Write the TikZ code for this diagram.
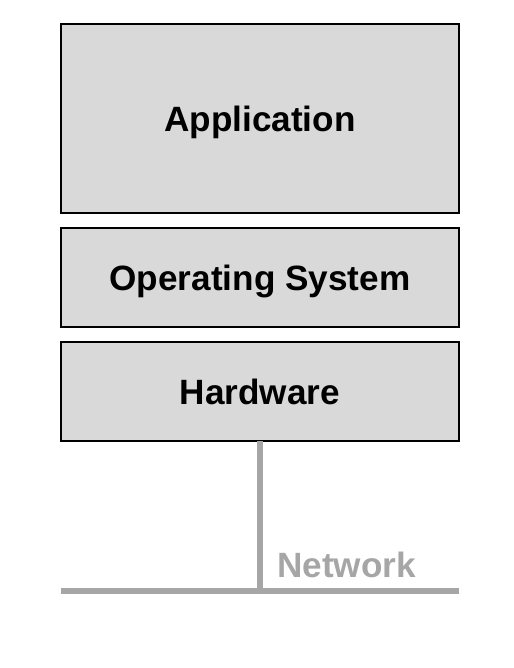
\documentclass[tikz,border=0pt]{standalone}
\usepackage{fontspec}
\setmainfont{Liberation Sans}
\usepackage{tikz}
\usetikzlibrary{positioning}
\usepackage{xcolor}
\definecolor{layergray}{RGB}{217,217,217}
\definecolor{netgray}{RGB}{166,166,166}

\begin{document}
\begin{tikzpicture}[
    node distance=0.3cm,
    layer/.style={draw, line width=0.7pt, fill=layergray, minimum width=7.96cm, align=center, font=\fontsize{20}{24}\selectfont\bfseries, inner sep=0pt, outer sep=0pt, text depth=-0.08cm},
    net/.style={draw=netgray, line width=3.6pt}
]
    \useasboundingbox (0,0) rectangle (10.28,-13.36);
    \node[layer, minimum height=3.78cm, anchor=north] (app) at (5.2,-0.48) {Application};
    \node[layer, minimum height=1.98cm, below=of app] (os) {Operating System};
    \node[layer, minimum height=1.98cm, below=of os] (hw) {Hardware};

    \coordinate (busL) at (1.22,-11.82);
    \coordinate (busR) at (9.18,-11.82);
    \draw[net] (busL) -- (busR);
    \draw[net] (hw.south) -- (hw.south |- busL);
    \node[anchor=base west, inner sep=0pt, text=netgray, font=\fontsize{20}{24}\selectfont\bfseries] (netlabel) at (5.54,-11.54) {Network};
\end{tikzpicture}
\end{document}
